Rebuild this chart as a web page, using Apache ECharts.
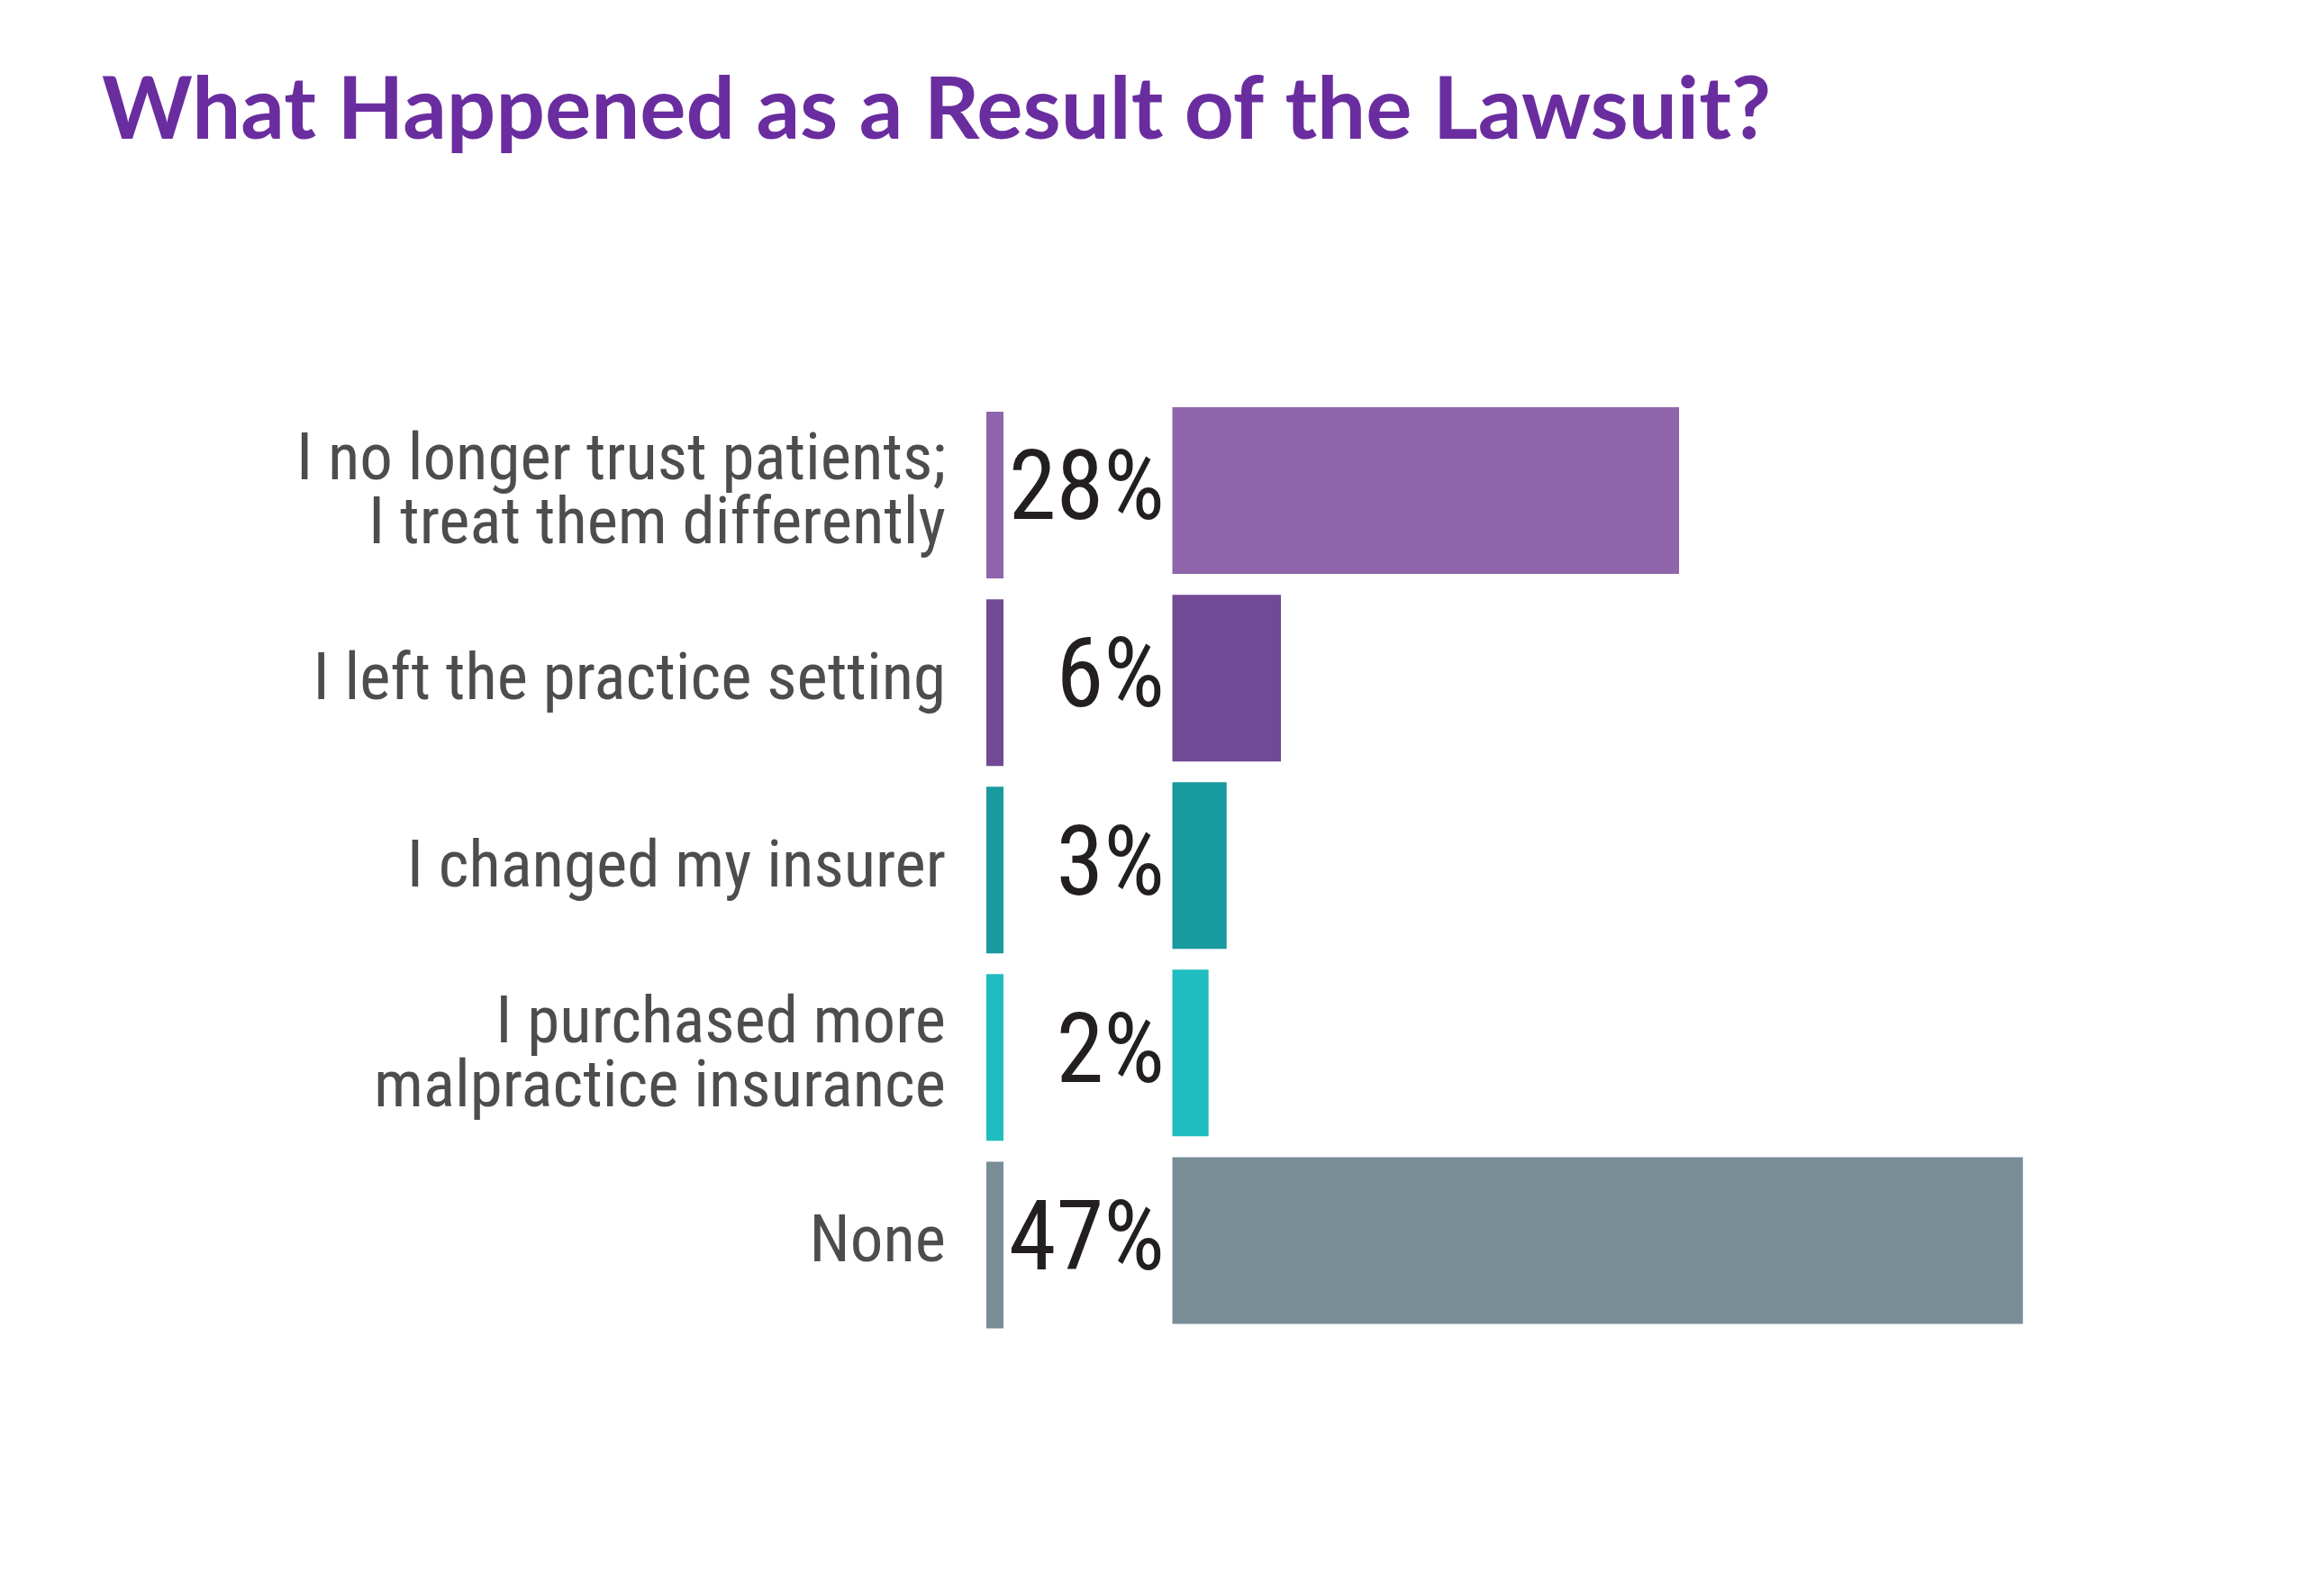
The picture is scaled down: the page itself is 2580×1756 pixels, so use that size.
<!DOCTYPE html>
<html>
<head>
<meta charset="utf-8">
<script src="https://cdn.jsdelivr.net/npm/echarts@6/dist/echarts.min.js"></script>
<style>
  html, body { margin: 0; padding: 0; background: #fff; }
  #chart { width: 2580px; height: 1756px; }
</style>
</head>
<body>
<div id="chart"></div>
<script>
// data
const categories = [
  'I no longer trust patients;\nI treat them differently',
  'I left the practice setting',
  'I changed my insurer',
  'I purchased more\nmalpractice insurance',
  'None'
];
const values = [28, 6, 3, 2, 47];
const colors = ['#8E65AB', '#724994', '#189A9E', '#1FBDC0', '#798D97'];
const markers = [1, 1, 1, 1, 1];

const chart = echarts.init(document.getElementById('chart'));
const labelFont = "'Roboto Condensed', 'Liberation Sans Narrow', 'DejaVu Sans Condensed', sans-serif";

chart.setOption({
  animation: false,
  backgroundColor: '#ffffff',
  title: {
    text: 'What Happened as a Result of the Lawsuit?',
    left: 108,
    top: 70,
    textStyle: {
      color: '#6A2D9F',
      fontFamily: 'Lato, sans-serif',
      fontWeight: 'bold',
      fontSize: 96
    }
  },
  grid: [
    // main bars
    { left: 1301.5, right: 274, top: 440.5, bottom: 275 },
    // thin colour markers with category + percent labels
    { left: 1095, width: 19, top: 445.5, bottom: 270 }
  ],
  xAxis: [
    { gridIndex: 0, type: 'value', min: 0, max: 50, show: false },
    { gridIndex: 1, type: 'value', min: 0, max: 1, show: false }
  ],
  yAxis: [
    {
      gridIndex: 0, type: 'category', data: categories, inverse: true,
      axisLine: { show: false }, axisTick: { show: false }, axisLabel: { show: false }
    },
    {
      gridIndex: 1, type: 'category', data: categories, inverse: true,
      axisLine: { show: false }, axisTick: { show: false },
      axisLabel: {
        margin: 45,
        color: '#4D4D4F',
        fontFamily: labelFont,
        fontSize: 73,
        lineHeight: 71,
        align: 'right'
      }
    }
  ],
  series: [
    {
      type: 'bar',
      xAxisIndex: 0,
      yAxisIndex: 0,
      barWidth: 185,
      data: values.map((v, i) => ({ value: v, itemStyle: { color: colors[i] } }))
    },
    {
      type: 'bar',
      xAxisIndex: 1,
      yAxisIndex: 1,
      barWidth: 185,
      data: markers.map((v, i) => ({ value: v, itemStyle: { color: colors[i] } })),
      label: {
        show: true,
        position: [198, '50%'],
        align: 'right',
        verticalAlign: 'middle',
        formatter: (p) => values[p.dataIndex] + '%',
        color: '#231F20',
        fontFamily: labelFont,
        fontSize: 107
      }
    }
  ]
});
</script>
</body>
</html>
